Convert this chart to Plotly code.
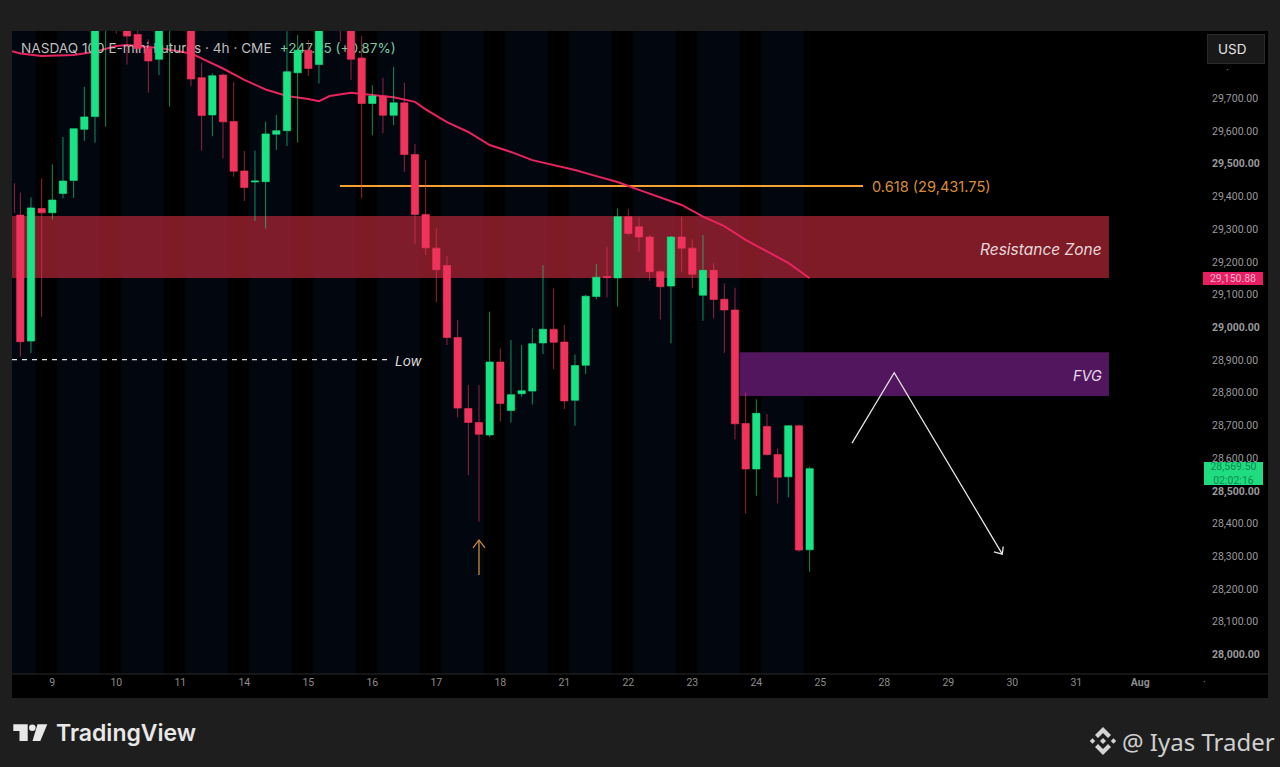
import plotly.graph_objs as go

# candle index counts 4h bars, index 0 sits on the "9" tick
first_idx = -3
opens = [
    29343, 28958, 29363, 29350, 29409, 29449, 29605, 29644, 29960, 30000,
    29940, 29895, 29852, 29819, 29950, 30030, 29970, 29763, 29649, 29771,
    29629, 29478, 29444, 29445, 29590, 29601, 29778, 29847, 29803, 29960,
    29960, 29915, 29823, 29684, 29707, 29648, 29686, 29528, 29345, 29242,
    29189, 28969, 28752, 28709, 28671, 28894, 28746, 28797, 28805, 28952,
    28994, 28955, 28777, 28884, 29094, 29155, 29151, 29338, 29307, 29276,
    29170, 29126, 29276, 29242, 29098, 29174, 29086, 29053, 28706, 28567,
    28697, 28611, 28543, 28699, 28320,
]
highs = [
    29412, 29397, 29455, 29498, 29582, 29607, 29735, 30010, 30090, 30040,
    29990, 29930, 29880, 29960, 30060, 30070, 30010, 29809, 29776, 29776,
    29750, 29539, 29540, 29628, 29649, 29905, 29893, 29878, 29950, 30020,
    30000, 29960, 29890, 29740, 29763, 29796, 29748, 29560, 29511, 29302,
    29218, 29022, 28824, 28824, 29048, 28936, 28961, 28946, 28997, 29190,
    29119, 29007, 28917, 29099, 29193, 29246, 29363, 29361, 29336, 29282,
    29175, 29279, 29338, 29269, 29282, 29197, 29134, 29121, 28801, 28780,
    28735, 28630, 28701, 28703, 28574,
]
lows = [
    28910, 28922, 29032, 29330, 29394, 29396, 29570, 29564, 29613, 29898,
    29803, 29837, 29717, 29771, 29674, 29925, 29737, 29540, 29584, 29516,
    29460, 29386, 29325, 29302, 29542, 29554, 29565, 29768, 29745, 29925,
    29873, 29756, 29394, 29587, 29593, 29618, 29475, 29254, 29221, 29076,
    28946, 28725, 28548, 28406, 28664, 28712, 28709, 28788, 28764, 28918,
    28872, 28750, 28699, 28857, 29086, 29091, 29063, 29280, 29231, 29142,
    29024, 28951, 29170, 29119, 29020, 29027, 28922, 28657, 28431, 28485,
    28608, 28462, 28480, 28314, 28253,
]
closes = [
    28956, 29365, 29350, 29389, 29447, 29607, 29643, 29960, 30050, 29940,
    29890, 29852, 29814, 29925, 30030, 29970, 29759, 29647, 29769, 29628,
    29477, 29427, 29447, 29591, 29601, 29781, 29847, 29791, 29915, 29990,
    29915, 29819, 29684, 29707, 29648, 29686, 29528, 29345, 29243, 29176,
    28969, 28753, 28709, 28673, 28894, 28767, 28794, 28806, 28950, 28994,
    28954, 28775, 28883, 29095, 29153, 29152, 29338, 29287, 29276, 29170,
    29124, 29276, 29242, 29162, 29174, 29085, 29053, 28705, 28567, 28737,
    28611, 28542, 28699, 28319, 28568,
]

ma_idx = [-3.78, -3, -1, 2, 4, 6, 7, 10, 13, 14, 16, 18, 20, 22, 24, 25, 26, 28, 30, 32, 34,
          35, 37, 39, 41, 43, 45, 47, 49, 51, 53, 55, 57, 59, 61, 63, 65, 67, 69, 71]
ma_val = [29844, 29837, 29829, 29832, 29842, 29860, 29863, 29854, 29837, 29822, 29791,
          29756, 29727, 29707, 29698, 29691, 29707, 29717, 29711, 29703, 29689,
          29666, 29627, 29597, 29557, 29536, 29511, 29496, 29481, 29462, 29444,
          29420, 29397, 29374, 29338, 29309, 29267, 29231, 29197, 29150]

price_ticks = [28000 + 100 * n for n in range(18)]
bold_prices = [28000, 28500, 29000, 29500]
day_idx = [6 * n for n in range(19)]
day_labels = ["9", "10", "11", "14", "15", "16", "17", "18", "21", "22", "23", "24",
              "25", "28", "29", "30", "31", "<b>Aug</b>", "·"]

IDX_RANGE = [-3.78, 108.44]
PRICE_RANGE = [27940.4, 29905.6]

resistance_zone = [29150.6, 29340]
fvg_zone = [28790, 28924]
fib_price = 29431.75
low_price = 28901
swing_idx = [74.97, 78.93, 89.06]
swing_val = [28646, 28861, 28307]
head_idx = [88.28, 89.06, 89.15]
head_val = [28314, 28307, 28330]
up_idx = [39.44, 40, 40.56]
up_val = [28326, 28350, 28326]

GREEN = "#19e384"
RED = "#f0335c"
PANEL = "#1e1e1e"


def px(x):
    return (x - 12) / 1197


def py(y):
    return (674 - y) / 643


def poly(points):
    return "M " + " L ".join(f"{px(x)},{py(y)}" for x, y in points) + " Z"


def diamond(cx, cy, r):
    return poly([(cx, cy - r), (cx + r, cy), (cx, cy + r), (cx - r, cy)])


def paper_shape(path, color):
    return dict(type="path", path=path, xref="paper", yref="paper", fillcolor=color,
                line=dict(width=0), layer="above")


shapes = [
    # black panel behind the plot and both axes
    dict(type="rect", xref="paper", yref="paper", x0=0, x1=px(1268), y0=py(698), y1=1,
         fillcolor="#000000", line=dict(width=0), layer="below"),
]
for day in range(-1, 12):
    shapes.append(dict(type="rect", x0=day * 6 + 0.45, x1=day * 6 + 4.45, y0=PRICE_RANGE[0], y1=PRICE_RANGE[1],
                       fillcolor="#02060f", line=dict(width=0), layer="below"))
shapes.append(dict(type="rect", x0=IDX_RANGE[0], x1=-1.55, y0=PRICE_RANGE[0], y1=PRICE_RANGE[1],
                   fillcolor="#02060f", line=dict(width=0), layer="below"))
shapes += [
    dict(type="rect", x0=IDX_RANGE[0], x1=99.06, y0=resistance_zone[0], y1=resistance_zone[1],
         fillcolor="rgba(186,40,58,0.68)", line=dict(width=0), layer="below"),
    dict(type="rect", x0=64.46, x1=99.06, y0=fvg_zone[0], y1=fvg_zone[1],
         fillcolor="#52165f", line=dict(width=0), layer="below"),
    dict(type="line", x0=26.96, x1=76, y0=fib_price, y1=fib_price,
         line=dict(color="#f5a031", width=2), layer="below"),
    dict(type="line", x0=IDX_RANGE[0], x1=31.5, y0=low_price, y1=low_price,
         line=dict(color="#e0e0e0", width=1.2, dash="5px,5px"), layer="below"),
    # axis strip border
    dict(type="line", xref="paper", yref="paper", x0=0, x1=px(1268), y0=0, y1=0,
         line=dict(color="#2b2b2b", width=1), layer="above"),
    # TradingView logo
    paper_shape(poly([(13.3, 724.3), (27.7, 724.3), (27.7, 741), (19.5, 741), (19.5, 731), (13.3, 731)]), "#e8e8e8"),
    dict(type="circle", xref="paper", yref="paper", x0=px(29), x1=px(35.6), y0=py(731), y1=py(724.4),
         fillcolor="#e8e8e8", line=dict(width=0), layer="above"),
    paper_shape(poly([(37.5, 724.3), (47.3, 724.3), (40.3, 741), (32.5, 741)]), "#e8e8e8"),
    # Binance mark
    paper_shape(diamond(1103, 741, 3), "#d4d4d4"),
    paper_shape(diamond(1092.5, 741, 2.7), "#d4d4d4"),
    paper_shape(diamond(1113.5, 741, 2.7), "#d4d4d4"),
    paper_shape(poly([(1103, 727), (1111, 735), (1108, 738), (1103, 733), (1098, 738), (1095, 735)]), "#d4d4d4"),
    paper_shape(poly([(1103, 755), (1111, 747), (1108, 744), (1103, 749), (1098, 744), (1095, 747)]), "#d4d4d4"),
]

tick_text = []
for p in price_ticks:
    label = f"{p:,.2f}"
    tick_text.append(f"<b>{label}</b>" if p in bold_prices else label)


def note(x, y, text, color, size, anchor="left", italic=False, family="Inter", weight=None):
    return dict(x=px(x), y=py(y), xref="paper", yref="paper", text=f"<i>{text}</i>" if italic else text,
                showarrow=False, xanchor=anchor, yanchor="middle",
                font=dict(color=color, size=size, family=family, weight=weight))


def tag(x, y, text, w, h, bg, border, color, size, family="Roboto"):
    return dict(x=px(x), y=py(y), xref="paper", yref="paper", text=text, showarrow=False,
                xanchor="center", yanchor="middle", width=w, height=h, borderpad=0,
                bgcolor=bg, bordercolor=border, borderwidth=1 if border else 0,
                font=dict(color=color, size=size, family=family))


annotations = [
    note(870, 187, "0.618 (29,431.75)", "#d98e35", 14.6),
    note(1104, 249, "Resistance Zone", "#e6d9da", 15.5, "right", True),
    note(1104, 375, "FVG", "#e6dcea", 14.5, "right", True),
    note(393, 361, "Low", "#dcdcdc", 13.5, italic=True),
    note(1224, 69, "·", "#777777", 10),
    note(54, 733, "TradingView", "#e8e8e8", 23, family="Inter", weight=600),
    note(1120, 741, "@ Iyas Trader", "#cfcfcf", 24, family="Noto Sans"),
    tag(1235.5, 49.5, "USD&nbsp;&nbsp;", 56, 28, "#191919", "#2c2c2c", "#e4e4e4", 13.5, "Inter"),
    tag(1233, 278.5, "29,150.88", 60, 13, "#e81e63", None, "#ffb3cd", 10.5),
    tag(1233.5, 473.5, "28,569.50<br>02:02:16", 59, 23, "#1fdc80", None, "#0f8a50", 10.5),
]

fig = go.Figure()

# primary axes sit under the candles, same as the chart's drawing order
fig.add_trace(go.Scatter(x=ma_idx, y=ma_val, mode="lines", line=dict(color="#e8245f", width=2), hoverinfo="skip"))
fig.add_trace(go.Scatter(x=[-2.93], y=[29848], mode="text", text=["NASDAQ 100 E-mini Futures · 4h · CME"],
                         textposition="middle right", textfont=dict(color="#bdbdbd", size=13.6, family="Inter")))
fig.add_trace(go.Scatter(x=[21.33], y=[29848], mode="text", text=["+247.25 (+0.87%)"],
                         textposition="middle right", textfont=dict(color="#7fc7a0", size=13.6, family="Inter")))
fig.add_trace(go.Scatter(x=swing_idx, y=swing_val, mode="lines", line=dict(color="#e4e4e4", width=1.3)))
fig.add_trace(go.Scatter(x=head_idx, y=head_val, mode="lines", line=dict(color="#e4e4e4", width=1.3)))
fig.add_trace(go.Scatter(x=[40, 40], y=[28243, 28350], mode="lines", line=dict(color="#c98b42", width=1.3)))
fig.add_trace(go.Scatter(x=up_idx, y=up_val, mode="lines", line=dict(color="#c98b42", width=1.3)))

fig.add_trace(go.Candlestick(
    x=list(range(first_idx, first_idx + len(opens))),
    open=opens, high=highs, low=lows, close=closes,
    xaxis="x2", yaxis="y2", whiskerwidth=0,
    increasing=dict(line=dict(color="rgba(25,227,132,0.62)", width=1), fillcolor=GREEN),
    decreasing=dict(line=dict(color="rgba(240,51,92,0.62)", width=1), fillcolor=RED),
))
# stray wick of the bar cut off by the left edge
fig.add_trace(go.Scatter(x=[-3.55, -3.55], y=[29350, 29440], mode="lines", xaxis="x2", yaxis="y2",
                         line=dict(color="rgba(240,51,92,0.62)", width=1)))

fig.update_layout(
    width=1280,
    height=767,
    autosize=False,
    showlegend=False,
    paper_bgcolor=PANEL,
    plot_bgcolor="rgba(0,0,0,0)",
    margin=dict(l=12, r=71, t=31, b=93),
    boxgap=0.02,
    shapes=shapes,
    annotations=annotations,
    xaxis=dict(range=IDX_RANGE, tickvals=day_idx, ticktext=day_labels, showgrid=False, zeroline=False,
               ticks="", tickfont=dict(color="#8c8c8c", size=10.5, family="Roboto"),
               rangeslider=dict(visible=False)),
    yaxis=dict(range=PRICE_RANGE, side="right", tickvals=price_ticks, ticktext=tick_text, showgrid=False,
               zeroline=False, ticks="", ticklabelstandoff=2,
               tickfont=dict(color="#9a9a9a", size=10.5, family="Roboto")),
    xaxis2=dict(range=IDX_RANGE, overlaying="x", visible=False, rangeslider=dict(visible=False)),
    yaxis2=dict(range=PRICE_RANGE, overlaying="y", visible=False),
)

# the page default body margin would push the chart 8px off
fig.write_html("out.html", config={"displayModeBar": False},
               post_script="document.body.style.margin='0';document.body.style.overflow='hidden';")
